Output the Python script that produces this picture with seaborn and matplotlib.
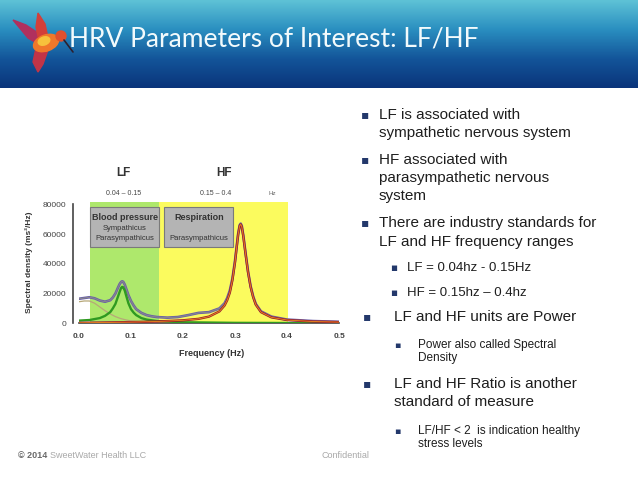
import numpy as np
import pandas as pd
import matplotlib.pyplot as plt
import seaborn as sns
from matplotlib.colors import LinearSegmentedColormap
from matplotlib.patches import Rectangle, Polygon, Ellipse, Circle

# --- chart data (frequency in Hz, power in ms²/Hz) ---
f_total = [0.0, 0.01, 0.02, 0.03, 0.04, 0.05, 0.06, 0.065, 0.07, 0.075, 0.078, 0.081, 0.083,
           0.085, 0.088, 0.09, 0.095, 0.10, 0.105, 0.11, 0.12, 0.13, 0.14, 0.15, 0.17, 0.19,
           0.21, 0.23, 0.25, 0.27, 0.28, 0.285, 0.29, 0.295, 0.30, 0.303, 0.306, 0.309,
           0.311, 0.313, 0.316, 0.32, 0.325, 0.33, 0.335, 0.34, 0.35, 0.37, 0.40, 0.45, 0.50]
total = [16500, 17000, 17500, 16800, 15300, 14500, 15500, 17300, 20000, 24000, 26300, 27800,
         28200, 27900, 26000, 24000, 19000, 15000, 12000, 9500, 7000, 5500, 4700, 4200, 3800,
         4200, 5500, 7000, 7500, 10000, 13500, 17000, 22000, 30000, 42000, 51000, 60000,
         66000, 67000, 65500, 59000, 48000, 35000, 25000, 18000, 13000, 8000, 4500, 2500,
         1500, 1000]

f_vlf = [0.0, 0.01, 0.02, 0.03, 0.04, 0.05, 0.06, 0.07, 0.08, 0.09, 0.10, 0.12, 0.15, 0.20,
         0.30, 0.50]
vlf = [14500, 15000, 15000, 13500, 11000, 8500, 6300, 4500, 3200, 2300, 1600, 900, 400, 200,
       100, 0]

f_lf = [0.0, 0.02, 0.04, 0.05, 0.06, 0.065, 0.07, 0.075, 0.078, 0.081, 0.083, 0.085, 0.088,
        0.09, 0.095, 0.10, 0.105, 0.11, 0.12, 0.13, 0.15, 0.20, 0.30, 0.40, 0.50]
lf = [1800, 2200, 3500, 5000, 7500, 10000, 13000, 18000, 21000, 23800, 24500, 24200, 22000,
      19500, 13500, 9500, 7200, 5500, 3500, 2500, 1500, 700, 300, 200, 100]

f_hf = [0.0, 0.10, 0.15, 0.20, 0.23, 0.25, 0.27, 0.28, 0.285, 0.29, 0.295, 0.30, 0.303,
        0.306, 0.309, 0.311, 0.313, 0.316, 0.32, 0.325, 0.33, 0.335, 0.34, 0.35, 0.37, 0.40,
        0.45, 0.50]
hf = [300, 800, 1200, 2000, 3000, 4500, 8000, 12000, 15500, 20500, 29000, 41000, 50500,
      59500, 65500, 66500, 65000, 58500, 47500, 34500, 24500, 17500, 12500, 7500, 4000, 2200,
      1200, 800]

lf_band = [0.021, 0.154]
hf_band = [0.154, 0.401]
band_top = 81500
bp_box = [0.021, 0.154, 51000, 78400]
resp_box = [0.164, 0.297, 51000, 78400]

x_ticks = [0.0, 0.1, 0.2, 0.3, 0.4, 0.5]
x_labels = ["0.0", "0.1", "0.2", "0.3", "0.4", "0.5"]
y_ticks = [0, 20000, 40000, 60000, 80000]
y_labels = ["0", "20000", "40000", "60000", "80000"]

title = "HRV Parameters of Interest: LF/HF"
bullets = [
    ("LF is associated with", 1, True),
    ("sympathetic nervous system", 1, False),
    ("HF associated with", 1, True),
    ("parasympathetic nervous", 1, False),
    ("system", 1, False),
    ("There are industry standards for", 1, True),
    ("LF and HF frequency ranges", 1, False),
    ("LF = 0.04hz - 0.15Hz", 2, True),
    ("HF = 0.15hz \u2013 0.4hz", 2, True),
    ("LF and HF units are Power", 3, True),
    ("Power also called Spectral", 4, True),
    ("Density", 4, False),
    ("LF and HF Ratio is another", 3, True),
    ("standard of measure", 3, False),
    ("LF/HF < 2  is indication healthy", 4, True),
    ("stress levels", 4, False),
]
bullet_y = [115, 133, 160, 178, 196, 223, 242, 268, 293, 317, 345, 358, 384, 402, 431, 444]
# level: (bullet x, text x, font size)
levels = {1: (365, 379, 11), 2: (394, 407, 9.5), 3: (367, 394, 11), 4: (397, 418, 8.5)}

sns.set_style("white")
plt.rcParams['font.family'] = ['Liberation Sans', 'DejaVu Sans']

W, H = 638, 479
fig = plt.figure(figsize=(W / 100, H / 100), dpi=100)

# slide background layer in pixel coordinates
bg = fig.add_axes([0, 0, 1, 1], zorder=0)
bg.set_xlim(0, W)
bg.set_ylim(H, 0)
bg.axis("off")

ocean = LinearSegmentedColormap.from_list("ocean", ["#5ec2d6", "#2a8fc0", "#13559a", "#0a347a"])
grad = np.linspace(0, 1, 200).reshape(-1, 1)
bg.imshow(grad, cmap=ocean, aspect="auto", extent=(0, W, 88, 0), zorder=0)

# hummingbird logo (rough)
bg.add_patch(Polygon([[13, 20], [26, 25], [41, 35], [40, 45], [28, 38]], closed=True,
                     color="#b0305e", zorder=1))
bg.add_patch(Polygon([[38, 13], [45, 24], [48, 38], [39, 41], [36, 27]], closed=True,
                     color="#d23f3a", zorder=1))
bg.add_patch(Polygon([[36, 48], [48, 50], [43, 64], [38, 72], [33, 62]], closed=True,
                     color="#c23447", zorder=1))
bg.add_patch(Ellipse((46, 43), 26, 16, angle=-20, color="#f0782a", zorder=2))
bg.add_patch(Ellipse((44, 41), 12, 8, angle=-20, color="#f7c23c", zorder=3))
bg.add_patch(Circle((61, 36), 5, color="#e0502e", zorder=2))
bg.plot([64, 73], [40, 52], color="#2c2030", lw=1.2, zorder=2)

bg.text(69, 39, title, fontsize=19, color="#f2fafc", va="center", ha="left",
        family=["Lato", "DejaVu Sans"])

for (txt, lvl, has_bullet), y in zip(bullets, bullet_y):
    bx, tx, size = levels[lvl]
    if has_bullet:
        bg.text(bx, y, "\u25aa", fontsize=size * 0.8, color="#23386b", va="center",
                ha="center", family=["DejaVu Sans"])
    bg.text(tx, y, txt, fontsize=size, color="#1e1e1e", va="center", ha="left")

bg.text(18, 455, "\u00a9 2014", fontsize=6.5, color="#6a6a6a", fontweight="bold", va="center")
bg.text(50, 455, "SweetWater Health LLC", fontsize=6.5, color="#a8a8a8", va="center")
bg.text(322, 455, "Confidential", fontsize=6.5, color="#a8a8a8", va="center")

# spectral chart
ymax = 82000
ax = fig.add_axes([79 / W, (H - 323.3) / H, 260 / W, 122 / H], zorder=2)
ax.patch.set_alpha(0)
ax.set_xlim(0, 0.5)
ax.set_ylim(0, ymax)

ax.axvspan(*lf_band, ymin=0, ymax=band_top / ymax, color="#aee86c", lw=0, zorder=0)
ax.axvspan(*hf_band, ymin=0, ymax=band_top / ymax, color="#fbfb5e", lw=0, zorder=0)
for x0, x1, y0, y1 in [bp_box, resp_box]:
    ax.add_patch(Rectangle((x0, y0), x1 - x0, y1 - y0, facecolor="#b4b4b4",
                           edgecolor="#7a7a7a", lw=0.8, zorder=1))

ax.text(0.0875, 71000, "Blood pressure", fontsize=6.5, fontweight="bold", color="#333",
        ha="center", va="center")
ax.text(0.0875, 63600, "Sympathicus", fontsize=5.5, color="#333", ha="center", va="center")
ax.text(0.0875, 56900, "Parasympathicus", fontsize=5.5, color="#333", ha="center", va="center")
ax.text(0.2305, 71000, "Respiration", fontsize=6.5, fontweight="bold", color="#333",
        ha="center", va="center")
ax.text(0.2305, 56900, "Parasympathicus", fontsize=5.5, color="#333", ha="center", va="center")

ax.text(0.085, 101000, "LF", fontsize=8.5, fontweight="bold", color="#333", ha="center",
        va="center")
ax.text(0.279, 101000, "HF", fontsize=8.5, fontweight="bold", color="#333", ha="center",
        va="center")
ax.text(0.085, 87000, "0.04 \u2013 0.15", fontsize=5, color="#444", ha="center", va="center")
ax.text(0.262, 87000, "0.15 \u2013 0.4", fontsize=5, color="#444", ha="center", va="center")
ax.text(0.371, 87000, "Hz", fontsize=4.5, color="#666", ha="center", va="center")

df_total = pd.DataFrame({"freq": f_total, "power": total})
df_vlf = pd.DataFrame({"freq": f_vlf, "power": vlf})
df_lf = pd.DataFrame({"freq": f_lf, "power": lf})
df_hf = pd.DataFrame({"freq": f_hf, "power": hf})

sns.lineplot(data=df_total, x="freq", y="power", ax=ax, color="#6a5fa8", lw=1.9, zorder=3)
sns.lineplot(data=df_total, x="freq", y="power", ax=ax, color="#8a8a8a", lw=0.7, zorder=4)
sns.lineplot(data=df_vlf, x="freq", y="power", ax=ax, color="#b7a878", lw=0.9, zorder=3)
sns.lineplot(data=df_lf, x="freq", y="power", ax=ax, color="#2f9a21", lw=1.7, zorder=5)
sns.lineplot(data=df_hf, x="freq", y="power", ax=ax, color="#9a1f2c", lw=1.7, zorder=5)
sns.lineplot(data=df_hf, x="freq", y="power", ax=ax, color="#f08a1c", lw=0.6, zorder=6)

ax.set_xticks(x_ticks)
ax.set_xticklabels(x_labels)
ax.set_xticks(np.arange(0, 0.51, 0.05), minor=True)
ax.set_yticks(y_ticks)
ax.set_yticklabels(y_labels)
ax.tick_params(axis="both", which="both", direction="out", length=3, width=1,
               color="#444", labelsize=6, labelcolor="#444", pad=2)
ax.tick_params(axis="x", which="major", pad=4)
for lab in ax.get_xticklabels() + ax.get_yticklabels():
    lab.set_fontweight("bold")

for s in ["top", "right"]:
    ax.spines[s].set_visible(False)
ax.spines["left"].set_position(("outward", 4))
ax.spines["left"].set_bounds(0, 80000)
ax.spines["bottom"].set_bounds(0, 0.5)
for s in ["left", "bottom"]:
    ax.spines[s].set_color("#444")
    ax.spines[s].set_linewidth(1.2)

ax.set_xlabel("Frequency (Hz)", fontsize=6.5, fontweight="bold", color="#333")
ax.set_ylabel("Spectral density (ms\u00b2/Hz)", fontsize=6, fontweight="bold", color="#333")
ax.xaxis.set_label_coords((212 - 79) / 260, -(349 - 323.3) / 122)
ax.yaxis.set_label_coords((33 - 79) / 260, 0.5)

fig.savefig("out.png", dpi=100)
